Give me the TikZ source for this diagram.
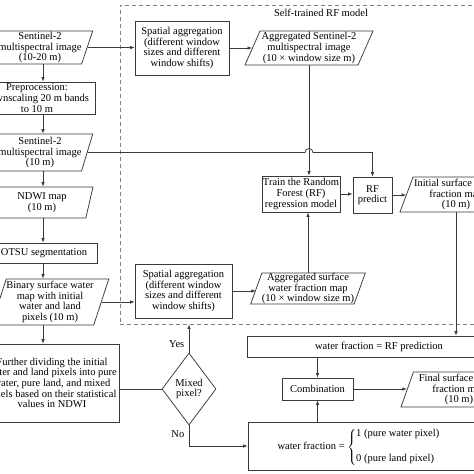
\documentclass[tikz,border=0pt]{standalone}
\usepackage{fontspec}
\setmainfont{Liberation Serif}
\usetikzlibrary{shapes.geometric,arrows.meta,calc}
\definecolor{linec}{HTML}{3A3A3A}
\definecolor{dashc}{HTML}{808080}
\begin{document}
\begin{tikzpicture}[x=1pt,y=-1pt,
  every node/.style={font=\fontsize{10.5}{10.6}\selectfont, text=black},
  ln/.style={draw=linec, line width=0.75pt},
  arr/.style={ln, -{Latex[length=4.5pt,width=3.5pt]}},
  box/.style={rectangle, draw=linec, line width=0.75pt, align=center, inner sep=1pt},
  para/.style={trapezium, trapezium left angle=70, trapezium right angle=110,
    trapezium stretches body, draw=linec, line width=0.75pt, align=center, inner sep=0pt},
  dashbox/.style={rectangle, draw=dashc, line width=0.75pt, dash pattern=on 4pt off 3pt},
  decision/.style={diamond, draw=linec, line width=0.75pt, align=center, inner sep=0pt}
]
\path[fill=white] (0,0) rectangle (474,474);
\useasboundingbox (0,0) rectangle (474,474);

% dashed frame
\node[dashbox, minimum width=370pt, minimum height=319pt] (rf) at (305,164.5) {};
\node (title) at (321,13) {Self-trained RF model};

% left column
\node[para, minimum width=104pt, minimum height=33pt] (s2a) at (40,47.5) {Sentinel-2\\multispectral image\\(10-20 m)};
\node[box, minimum width=116pt, minimum height=32pt] (pre) at (37,98) {Preprocession:\\downscaling 20 m bands\\to 10 m};
\node[para, minimum width=104pt, minimum height=37pt] (s2b) at (40,152.5) {Sentinel-2\\multispectral image\\(10 m)};
\node[para, minimum width=102pt, minimum height=31pt] (ndwi) at (42,202.5) {NDWI map\\(10 m)};
\node[box, minimum width=106pt, minimum height=20pt] (otsu) at (44,253) {OTSU segmentation};
\node[para, minimum width=110pt, minimum height=46pt] (bin) at (50,302) {Binary surface water\\map with initial\\water and land\\pixels (10 m)};
\node[box, minimum width=134pt, minimum height=78pt] (fur) at (52,383) {Further dividing the initial\\water and land pixels into pure\\water, pure land, and mixed\\pixels based on their statistical\\values in NDWI};
\node[decision, minimum width=54pt, minimum height=72pt] (mix) at (189,389) {Mixed\\pixel?};

% inside RF frame
\node[box, minimum width=94pt, minimum height=54pt] (sa1) at (182,48) {Spatial aggregation\\(different window\\sizes and different\\window shifts)};
\node[para, trapezium left angle=64, trapezium right angle=116, minimum width=128pt, minimum height=34pt] (ags) at (309,48) {Aggregated Sentinel-2\\multispectral image\\(10 × window size m)};
\node[box, minimum width=78pt, minimum height=36pt] (train) at (301,194) {Train the Random\\Forest (RF)\\regression model};
\node[box, minimum width=39pt, minimum height=36pt] (rfp) at (372.5,195) {RF\\predict};
\node[para, trapezium left angle=67, trapezium right angle=113, minimum width=112pt, minimum height=35pt] (init) at (456,194.5) {Initial surface water\\fraction map\\(10 m)};
\node[box, minimum width=97pt, minimum height=54pt] (sa2) at (183.5,291) {Spatial aggregation\\(different window\\sizes and different\\window shifts)};
\node[para, minimum width=110pt, minimum height=31pt] (agw) at (308,288.5) {Aggregated surface\\water fraction map\\(10 × window size m)};

% bottom right
\node[box, minimum width=264pt, minimum height=21pt] (wfrf) at (379,346.5) {water fraction = RF prediction};
\node[box, minimum width=71pt, minimum height=22pt] (comb) at (317.5,389) {Combination};
\node[para, trapezium left angle=68, trapezium right angle=112, minimum width=116pt, minimum height=35pt] (fin) at (459,389.5) {Final surface water\\fraction map\\(10 m)};
\node[box, minimum width=272pt, minimum height=48pt] (wfb) at (384,446) {};
\node (wff) at (359,447) {water fraction = $\left\{\begin{tabular}{@{}l@{}}1 (pure water pixel)\\[15pt]0 (pure land pixel)\end{tabular}\right.$};

% connectors
\coordinate (colx) at (43,0);
\draw[arr] (s2a.south -| colx) -- (pre.north -| colx);
\draw[arr] (pre.south -| colx) -- (s2b.north -| colx);
\draw[arr] (s2b.south -| colx) -- (ndwi.north -| colx);
\draw[arr] (ndwi.south -| colx) -- (otsu.north -| colx);
\draw[arr] (otsu.south -| colx) -- (bin.north -| colx);
\draw[arr] (bin.south -| colx) -- (fur.north -| colx);

\draw[arr] (s2a.right side) -- (s2a.right side -| sa1.west);
\draw[arr] (sa1.east) -- (sa1.east -| ags.left side);
\draw[arr] (ags.south) -- (ags.south |- train.north);
\draw[arr] (s2b.right side) -- ($(ags.south |- s2b.right side)+(-4,0)$) arc[start angle=180,end angle=0,radius=4pt] -| (rfp.north);
\draw[arr] (train.east) -- (train.east -| rfp.west);
\draw[arr] (rfp.east) -- (rfp.east -| init.left side);
\draw[arr] (init.south) -- (init.south |- wfrf.north);

\draw[arr] (bin.right side) -- (bin.right side -| sa2.west);
\draw[arr] (sa2.east) -- (sa2.east -| agw.left side);
\draw[arr] (agw.north) -- (agw.north |- train.south);

\draw[ln] (fur.east |- mix.west) -- (mix.west);
\draw[arr] (mix.north) -- (mix.north |- rf.south) node[pos=0.3, left=1pt] {Yes};
\draw[arr] (mix.south) |- (wfb.west) node[pos=0.22, left=1pt] {No};

\draw[arr] (wfrf.south -| comb.north) -- (comb.north);
\draw[arr] (comb.east) -- (comb.east -| fin.left side);
\draw[arr] (wfb.north -| comb.south) -- (comb.south);
\end{tikzpicture}
\end{document}
